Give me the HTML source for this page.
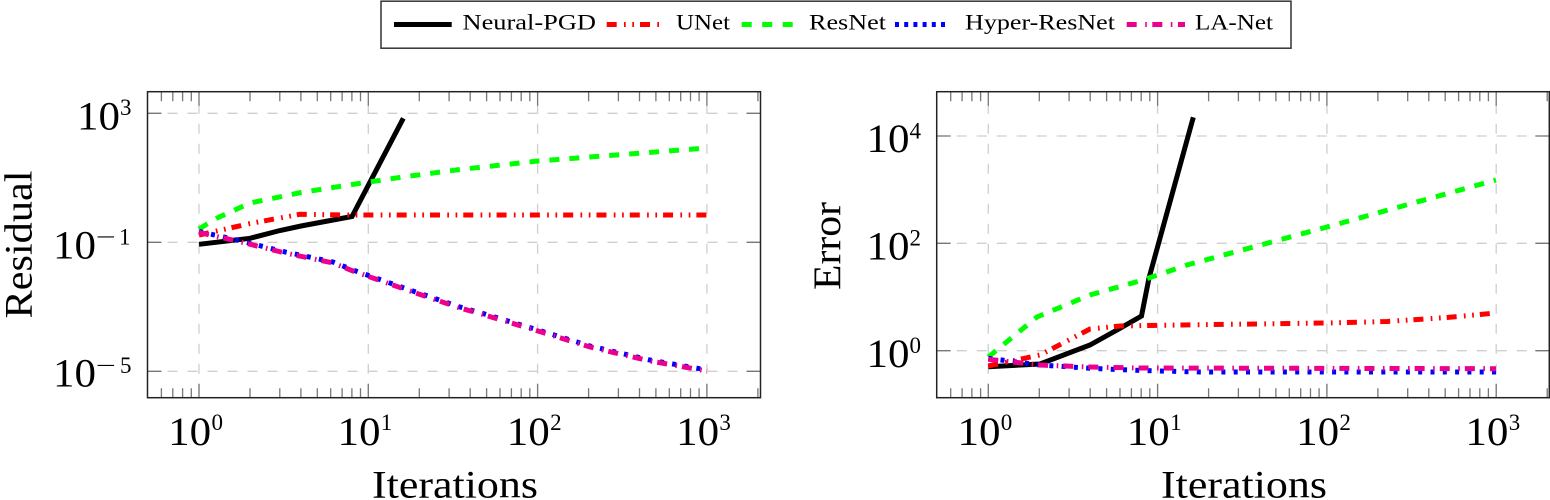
<!DOCTYPE html>
<html>
<head>
<meta charset="utf-8">
<style>
  html, body { margin:0; padding:0; background:#fff; }
  svg { display:block; }
  text { font-family: "Liberation Serif", "DejaVu Serif", serif; fill:#000; }
</style>
</head>
<body>
<svg width="1550" height="500" viewBox="0 0 1550 500" xmlns="http://www.w3.org/2000/svg">
  <rect x="0" y="0" width="1550" height="500" fill="#fff"/>

  <!-- ===== Legend ===== -->
  <rect x="381" y="1.2" width="910" height="47" fill="#fff" stroke="#333" stroke-width="1.5"/>
  <path d="M394 24.5H451.7" stroke="#000" stroke-width="5" fill="none"/>
  <text x="462.5" y="29.5" font-size="22" textLength="133.5" lengthAdjust="spacingAndGlyphs">Neural-PGD</text>
  <path d="M606.7 24.5H659.3" stroke="#ff0000" stroke-width="5" fill="none" stroke-dasharray="10 7.3 1.7 6.6 1.7 6"/>
  <text x="676" y="29.5" font-size="22" textLength="54" lengthAdjust="spacingAndGlyphs">UNet</text>
  <path d="M741.7 24.5H792.7" stroke="#00ff00" stroke-width="5" fill="none" stroke-dasharray="10 10.5"/>
  <text x="809" y="29.5" font-size="22" textLength="77" lengthAdjust="spacingAndGlyphs">ResNet</text>
  <path d="M895 24.5H950" stroke="#0000ff" stroke-width="5" fill="none" stroke-dasharray="4 5.2"/>
  <text x="965" y="29.5" font-size="22" textLength="150" lengthAdjust="spacingAndGlyphs">Hyper-ResNet</text>
  <path d="M1126.7 24.5H1185" stroke="#ec008c" stroke-width="5" fill="none" stroke-dasharray="10 8.5 1.6 5.5"/>
  <text x="1195" y="29.5" font-size="22" textLength="78" lengthAdjust="spacingAndGlyphs">LA-Net</text>

  <defs>
    <clipPath id="clipL"><rect x="147.5" y="91.7" width="613" height="306"/></clipPath>
    <clipPath id="clipR"><rect x="936.7" y="91.7" width="612.6" height="306"/></clipPath>
  </defs>

  <!-- ===== LEFT PLOT ===== -->
  <g stroke="#cfcfcf" stroke-width="1.3" fill="none" stroke-dasharray="10 10">
    <path d="M147.5 113.3H760.5M147.5 242.3H760.5M147.5 371.3H760.5"/>
    <path stroke-dashoffset="8" d="M199 91.7V397.7M368.3 91.7V397.7M537.6 91.7V397.7M706.9 91.7V397.7"/>
  </g>

  <g stroke="#777" stroke-width="1.3" fill="none">
    <path d="M161.4 397.7v-9.5M161.4 91.7v9.5M172.8 397.7v-9.5M172.8 91.7v9.5M182.6 397.7v-9.5M182.6 91.7v9.5M191.3 397.7v-9.5M191.3 91.7v9.5
M250 397.7v-9.5M250 91.7v9.5M279.8 397.7v-9.5M279.8 91.7v9.5M300.9 397.7v-9.5M300.9 91.7v9.5M317.3 397.7v-9.5M317.3 91.7v9.5M330.7 397.7v-9.5M330.7 91.7v9.5M342.1 397.7v-9.5M342.1 91.7v9.5M351.9 397.7v-9.5M351.9 91.7v9.5M360.5 397.7v-9.5M360.5 91.7v9.5
M419.3 397.7v-9.5M419.3 91.7v9.5M449.1 397.7v-9.5M449.1 91.7v9.5M470.2 397.7v-9.5M470.2 91.7v9.5M486.6 397.7v-9.5M486.6 91.7v9.5M500 397.7v-9.5M500 91.7v9.5M511.4 397.7v-9.5M511.4 91.7v9.5M521.2 397.7v-9.5M521.2 91.7v9.5M529.8 397.7v-9.5M529.8 91.7v9.5
M588.6 397.7v-9.5M588.6 91.7v9.5M618.4 397.7v-9.5M618.4 91.7v9.5M639.5 397.7v-9.5M639.5 91.7v9.5M655.9 397.7v-9.5M655.9 91.7v9.5M669.3 397.7v-9.5M669.3 91.7v9.5M680.7 397.7v-9.5M680.7 91.7v9.5M690.5 397.7v-9.5M690.5 91.7v9.5M699.1 397.7v-9.5M699.1 91.7v9.5
M757.9 397.7v-9.5M757.9 91.7v9.5"/>
    <path d="M199 397.7v-14M199 91.7v14M368.3 397.7v-14M368.3 91.7v14M537.6 397.7v-14M537.6 91.7v14M706.9 397.7v-14M706.9 91.7v14"/>
    <path d="M147.5 113.3h14M760.5 113.3h-14M147.5 242.3h14M760.5 242.3h-14M147.5 371.3h14M760.5 371.3h-14"/>
  </g>

  <g clip-path="url(#clipL)" fill="none" stroke-width="5" stroke-linejoin="miter">
    <path stroke="#000" d="M199 244.3L250 238.3L280 230.5L301 226L352 216.5L403.3 118.3"/>
    <path stroke="#ff0000" stroke-dasharray="10 7.3 1.7 6.6 1.7 6" d="M199 235L237 226.5L250 223.5L300 214.3L352 215L707 215"/>
    <path stroke="#00ff00" stroke-dasharray="10 10" d="M199 229L215 219L250 203L301 192.5L352 184.5L403 177L460 169.5L538 161L707 148"/>
    <path stroke="#0000ff" stroke-dasharray="4 8.3" d="M199 231.5L237 240L283 251.5L333 262L353 270L380 279.5L407 289L460 307L483 313.5L538 330L590 346L650 360L707 370"/>
    <path stroke="#ec008c" stroke-dasharray="10 8.5 1.6 5" d="M199 232.5L237 241L283 252.5L333 263L353 271L380 280.5L407 290L460 308L483 314.5L538 331L590 347L650 361L707 371"/>
  </g>

  <rect x="147.5" y="91.7" width="613" height="306" fill="none" stroke="#222" stroke-width="1.5"/>

  <!-- x tick labels left -->
  <text x="168.2" y="445" font-size="40" textLength="43" lengthAdjust="spacingAndGlyphs">10</text>
  <text x="211.5" y="430" font-size="23">0</text>
  <text x="337.5" y="445" font-size="40" textLength="43" lengthAdjust="spacingAndGlyphs">10</text>
  <text x="380.8" y="430" font-size="23">1</text>
  <text x="506.8" y="445" font-size="40" textLength="43" lengthAdjust="spacingAndGlyphs">10</text>
  <text x="550.1" y="430" font-size="23">2</text>
  <text x="676.1" y="445" font-size="40" textLength="43" lengthAdjust="spacingAndGlyphs">10</text>
  <text x="719.4" y="430" font-size="23">3</text>

  <!-- y tick labels left -->
  <text x="77" y="129.5" font-size="40" textLength="43" lengthAdjust="spacingAndGlyphs">10</text>
  <text x="131.5" y="115" font-size="23" text-anchor="end">3</text>
  <text x="53" y="258.3" font-size="40" textLength="43" lengthAdjust="spacingAndGlyphs">10</text>
  <text x="96" y="244.5" font-size="23" textLength="20" lengthAdjust="spacingAndGlyphs">−</text>
  <text x="130.5" y="244.5" font-size="23" text-anchor="end">1</text>
  <text x="53" y="386.7" font-size="40" textLength="43" lengthAdjust="spacingAndGlyphs">10</text>
  <text x="96" y="373" font-size="23" textLength="20" lengthAdjust="spacingAndGlyphs">−</text>
  <text x="131.5" y="373" font-size="23" text-anchor="end">5</text>

  <text x="455" y="497.5" font-size="39" text-anchor="middle" textLength="166" lengthAdjust="spacingAndGlyphs">Iterations</text>
  <text transform="translate(31.5,244.5) rotate(-90)" x="0" y="0" font-size="39" text-anchor="middle" textLength="148" lengthAdjust="spacingAndGlyphs">Residual</text>

  <!-- ===== RIGHT PLOT ===== -->
  <g stroke="#cfcfcf" stroke-width="1.3" fill="none" stroke-dasharray="10 10">
    <path d="M936.7 136H1549.3M936.7 243.3H1549.3M936.7 350.7H1549.3"/>
    <path stroke-dashoffset="8" d="M988.3 91.7V397.7M1157.6 91.7V397.7M1326.9 91.7V397.7M1496.2 91.7V397.7"/>
  </g>

  <g stroke="#777" stroke-width="1.3" fill="none">
    <path d="M950.7 397.7v-9.5M950.7 91.7v9.5M962.1 397.7v-9.5M962.1 91.7v9.5M971.9 397.7v-9.5M971.9 91.7v9.5M980.6 397.7v-9.5M980.6 91.7v9.5
M1039.3 397.7v-9.5M1039.3 91.7v9.5M1069.1 397.7v-9.5M1069.1 91.7v9.5M1090.2 397.7v-9.5M1090.2 91.7v9.5M1106.6 397.7v-9.5M1106.6 91.7v9.5M1120 397.7v-9.5M1120 91.7v9.5M1131.4 397.7v-9.5M1131.4 91.7v9.5M1141.2 397.7v-9.5M1141.2 91.7v9.5M1149.8 397.7v-9.5M1149.8 91.7v9.5
M1208.6 397.7v-9.5M1208.6 91.7v9.5M1238.4 397.7v-9.5M1238.4 91.7v9.5M1259.5 397.7v-9.5M1259.5 91.7v9.5M1275.9 397.7v-9.5M1275.9 91.7v9.5M1289.3 397.7v-9.5M1289.3 91.7v9.5M1300.7 397.7v-9.5M1300.7 91.7v9.5M1310.5 397.7v-9.5M1310.5 91.7v9.5M1319.1 397.7v-9.5M1319.1 91.7v9.5
M1377.9 397.7v-9.5M1377.9 91.7v9.5M1407.7 397.7v-9.5M1407.7 91.7v9.5M1428.8 397.7v-9.5M1428.8 91.7v9.5M1445.2 397.7v-9.5M1445.2 91.7v9.5M1458.6 397.7v-9.5M1458.6 91.7v9.5M1470 397.7v-9.5M1470 91.7v9.5M1479.8 397.7v-9.5M1479.8 91.7v9.5M1488.4 397.7v-9.5M1488.4 91.7v9.5
M1547.2 397.7v-9.5M1547.2 91.7v9.5"/>
    <path d="M988.3 397.7v-14M988.3 91.7v14M1157.6 397.7v-14M1157.6 91.7v14M1326.9 397.7v-14M1326.9 91.7v14M1496.2 397.7v-14M1496.2 91.7v14"/>
    <path d="M936.7 136h14M1549.3 136h-14M936.7 243.3h14M1549.3 243.3h-14M936.7 350.7h14M1549.3 350.7h-14"/>
  </g>

  <g clip-path="url(#clipR)" fill="none" stroke-width="5" stroke-linejoin="miter">
    <path stroke="#000" d="M988.3 366.7L1040 364L1090 345L1120 328.3L1141.5 316L1149 278L1193.3 117.3"/>
    <path stroke="#ff0000" stroke-dasharray="10 7.3 1.7 6.6 1.7 6" d="M988.3 366L1040 355L1090 329L1120 326L1180 325L1327 323L1387 321.5L1447 317.5L1496 313"/>
    <path stroke="#00ff00" stroke-dasharray="10 10" d="M988.3 357L1037 317L1090 295L1143 280L1187 265L1327 227L1496 180"/>
    <path stroke="#0000ff" stroke-dasharray="4 8.3" d="M988.3 358.3L1040 365L1090 368.3L1141 370.5L1200 372L1496 372"/>
    <path stroke="#ec008c" stroke-dasharray="10 8.5 1.6 5" d="M988.3 359.3L1040 365L1090 367L1141 368L1496 368.7"/>
  </g>

  <rect x="936.7" y="91.7" width="612.6" height="306" fill="none" stroke="#222" stroke-width="1.5"/>

  <!-- x tick labels right -->
  <text x="957.5" y="445" font-size="40" textLength="43" lengthAdjust="spacingAndGlyphs">10</text>
  <text x="1000.8" y="430" font-size="23">0</text>
  <text x="1126.8" y="445" font-size="40" textLength="43" lengthAdjust="spacingAndGlyphs">10</text>
  <text x="1170.1" y="430" font-size="23">1</text>
  <text x="1296.1" y="445" font-size="40" textLength="43" lengthAdjust="spacingAndGlyphs">10</text>
  <text x="1339.4" y="430" font-size="23">2</text>
  <text x="1465.4" y="445" font-size="40" textLength="43" lengthAdjust="spacingAndGlyphs">10</text>
  <text x="1508.7" y="430" font-size="23">3</text>

  <!-- y tick labels right -->
  <text x="866.5" y="152" font-size="40" textLength="43" lengthAdjust="spacingAndGlyphs">10</text>
  <text x="921" y="138.5" font-size="23" text-anchor="end">4</text>
  <text x="866.5" y="259.5" font-size="40" textLength="43" lengthAdjust="spacingAndGlyphs">10</text>
  <text x="921" y="245.5" font-size="23" text-anchor="end">2</text>
  <text x="866.5" y="367" font-size="40" textLength="43" lengthAdjust="spacingAndGlyphs">10</text>
  <text x="921" y="353" font-size="23" text-anchor="end">0</text>

  <text x="1244" y="497.5" font-size="39" text-anchor="middle" textLength="166" lengthAdjust="spacingAndGlyphs">Iterations</text>
  <text transform="translate(840,246) rotate(-90)" x="0" y="0" font-size="39" text-anchor="middle" textLength="88" lengthAdjust="spacingAndGlyphs">Error</text>
</svg>
</body>
</html>
